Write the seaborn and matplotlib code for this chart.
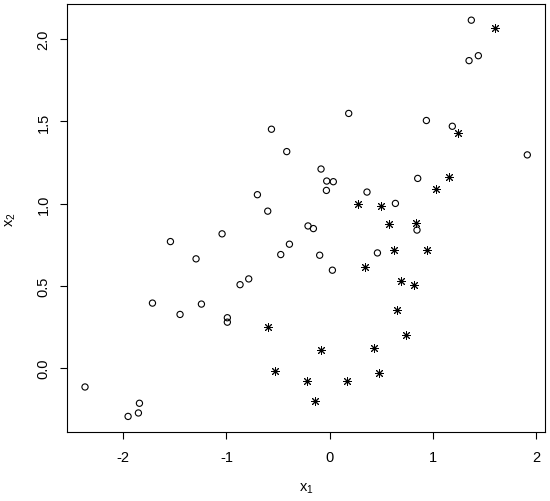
import numpy as np
import pandas as pd
import matplotlib
matplotlib.use("Agg")
import matplotlib.pyplot as plt
import seaborn as sns

# Class 1 (open circles)
circle_x1 = [-0.564, -0.416, -0.700, -0.600, -0.210, -1.042, -1.542, -0.390,
             1.371, 1.349, 1.439, 0.184, 0.936, 1.187, 1.913, -0.084,
             -0.029, 0.035, -0.032, 0.852, 0.361, 0.636, -0.158, 0.845,
             -0.474, -1.294, -0.784, -0.868, -1.716, -1.242, -1.449, -0.991,
             -0.991, -2.369, -1.842, -1.852, -1.952, -0.097, 0.026, 0.462]
circle_x2 = [1.453, 1.317, 1.055, 0.955, 0.865, 0.817, 0.770, 0.754,
             2.116, 1.870, 1.900, 1.549, 1.506, 1.471, 1.297, 1.211,
             1.138, 1.134, 1.081, 1.154, 1.071, 1.002, 0.849, 0.840,
             0.691, 0.665, 0.543, 0.508, 0.396, 0.390, 0.327, 0.307,
             0.280, -0.114, -0.213, -0.272, -0.293, 0.687, 0.596, 0.701]

# Class 2 (asterisks)
star_x1 = [1.600, 1.242, 1.155, 1.026, 0.271, 0.494, 0.574, 0.835,
           0.623, 0.939, 0.345, 0.694, 0.816, 0.649, -0.594, 0.736,
           -0.084, 0.432, -0.526, 0.478, -0.219, 0.171, -0.139]
star_x2 = [2.071, 1.429, 1.163, 1.091, 1.000, 0.988, 0.878, 0.880,
           0.721, 0.717, 0.616, 0.530, 0.504, 0.352, 0.248, 0.199,
           0.108, 0.124, -0.014, -0.026, -0.075, -0.075, -0.201]

x_ticks = [-2, -1, 0, 1, 2]
y_ticks = [0.0, 0.5, 1.0, 1.5, 2.0]
y_tick_labels = ["0.0", "0.5", "1.0", "1.5", "2.0"]

df_c = pd.DataFrame({"x1": circle_x1, "x2": circle_x2})
df_s = pd.DataFrame({"x1": star_x1, "x2": star_x2})

sns.set_style("ticks")
plt.rcParams["font.family"] = ["Liberation Sans", "DejaVu Sans"]
plt.rcParams["mathtext.fontset"] = "custom"
plt.rcParams["mathtext.rm"] = "Liberation Sans"

fig = plt.figure(figsize=(5.5, 5.02), dpi=100)
ax = fig.add_axes([0.1224, 0.1369, 0.8685, 0.8525])

sns.scatterplot(data=df_c, x="x1", y="x2", ax=ax, marker="o", s=20,
                color="black", facecolors="none", edgecolor="black",
                linewidth=0.8)
sns.scatterplot(data=df_s, x="x1", y="x2", ax=ax, marker=(8, 2, 0), s=34,
                color="black", linewidth=0.7)

# R-style 4% axis extension
xall = circle_x1 + star_x1
yall = circle_x2 + star_x2
xr = max(xall) - min(xall)
yr = max(yall) - min(yall)
ax.set_xlim(min(xall) - 0.04 * xr, max(xall) + 0.04 * xr)
ax.set_ylim(min(yall) - 0.04 * yr, max(yall) + 0.04 * yr)

ax.set_xticks(x_ticks)
ax.set_xticklabels([str(t) for t in x_ticks])
ax.set_yticks(y_ticks)
ax.set_yticklabels(y_tick_labels, rotation=90, va="center")

for sp in ax.spines.values():
    sp.set_visible(True)
    sp.set_color("black")
    sp.set_linewidth(0.8)

ax.tick_params(axis="both", length=5, width=0.8, color="black",
               labelsize=10.5, labelcolor="black", direction="out")
ax.tick_params(axis="x", pad=8)
ax.tick_params(axis="y", pad=7)

ax.set_xlabel(r"$\mathregular{x_1}$", fontsize=10.5, color="black")
ax.set_ylabel(r"$\mathregular{x_2}$", fontsize=10.5, color="black")
ax.xaxis.label.set_verticalalignment("center")
ax.yaxis.label.set_verticalalignment("center")
ax.xaxis.set_label_coords(0.5, -0.13)
ax.yaxis.set_label_coords(-0.118, 0.5)

fig.savefig("out.png", dpi=100)
